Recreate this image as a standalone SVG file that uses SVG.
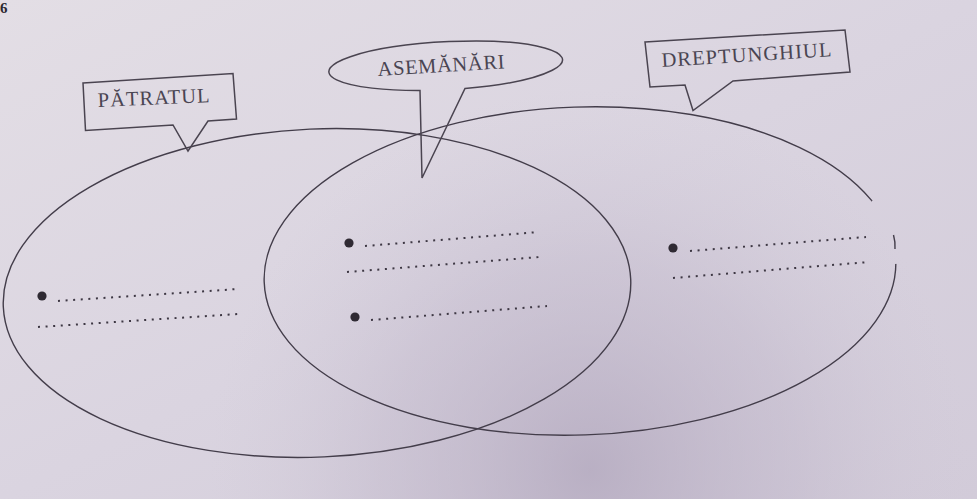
<svg xmlns="http://www.w3.org/2000/svg" width="977" height="499" viewBox="0 0 977 499">
  <defs>
    <linearGradient id="bg" x1="0" y1="0" x2="1" y2="1">
      <stop offset="0" stop-color="#e3dee5"/>
      <stop offset="0.5" stop-color="#dad4e0"/>
      <stop offset="1" stop-color="#d2cbd9"/>
    </linearGradient>
    <radialGradient id="shade" cx="590" cy="470" r="380" gradientUnits="userSpaceOnUse">
      <stop offset="0" stop-color="#ada2b9" stop-opacity="0.7"/>
      <stop offset="0.55" stop-color="#b9afc4" stop-opacity="0.35"/>
      <stop offset="1" stop-color="#cdc6d5" stop-opacity="0"/>
    </radialGradient>
    <mask id="gap">
      <rect x="0" y="0" width="977" height="499" fill="#fff"/>
      <rect x="874" y="211" width="40" height="64" fill="#000"/>
    </mask>
    <style>
      .ln { fill: none; stroke: #433d4a; stroke-width: 1.4; }
      .box { fill: none; stroke: #4a4450; stroke-width: 1.5; stroke-linejoin: miter; }
      .lbl { font-family: "Liberation Serif", "Times New Roman", serif; font-size: 20.5px; fill: #4a4552; }
      .dots { fill: none; stroke: #3d3743; stroke-width: 2; stroke-dasharray: 2 5.6; }
      .bullet { fill: #2f2a33; }
    </style>
  </defs>

  <rect x="0" y="0" width="977" height="499" fill="url(#bg)"/>
  <rect x="0" y="0" width="977" height="499" fill="url(#shade)"/>

  <text x="0" y="13" font-family="Liberation Serif, serif" font-size="15" font-weight="bold" fill="#2c2830">6</text>

  <g id="set-patratul">
    <ellipse class="ln" cx="317" cy="293" rx="314" ry="164" transform="rotate(-2.5 317 293)"/>
  </g>

  <g id="set-dreptunghiul">
    <ellipse class="ln" cx="580" cy="271" rx="316" ry="164" transform="rotate(-2 580 271)" mask="url(#gap)"/>
    <path class="ln" d="M 893.5 235 Q 895.5 242 895 249"/>
  </g>

  <g id="node-patratul">
    <path class="box" d="M 83 83 L 233 73.5 L 236.5 119 L 208 121 L 188 151 L 173 125 L 85.5 130.5 Z"/>
    <text class="lbl" x="98" y="107" textLength="112" lengthAdjust="spacing" transform="rotate(-2.5 98 107)">PĂTRATUL</text>
  </g>

  <g id="node-asemanari">
    <path class="box" d="M 420 90.5 A 117 24 -3 1 1 465 88.5 L 422 178 Z"/>
    <text class="lbl" x="378" y="76" textLength="127" lengthAdjust="spacing" transform="rotate(-3.5 378 76)">ASEMĂNĂRI</text>
  </g>

  <g id="node-dreptunghiul">
    <path class="box" d="M 645 42 L 845 30 L 850 72 L 733 81 L 693 110.5 L 685 85 L 650 87 Z"/>
    <text class="lbl" x="662" y="67" textLength="170" lengthAdjust="spacing" transform="rotate(-3.6 662 67)">DREPTUNGHIUL</text>
  </g>

  <g id="items-patratul">
    <circle class="bullet" cx="42" cy="296" r="4.6"/>
    <line class="dots" x1="58" y1="301" x2="238" y2="289"/>
    <line class="dots" x1="38" y1="327" x2="238" y2="314"/>
  </g>

  <g id="items-asemanari">
    <circle class="bullet" cx="349" cy="243" r="4.6"/>
    <line class="dots" x1="365" y1="246" x2="539" y2="232"/>
    <line class="dots" x1="347" y1="272" x2="540" y2="257"/>
    <circle class="bullet" cx="355" cy="317" r="4.6"/>
    <line class="dots" x1="371" y1="320" x2="547" y2="306"/>
  </g>

  <g id="items-dreptunghiul">
    <circle class="bullet" cx="673" cy="248" r="4.6"/>
    <line class="dots" x1="690" y1="251" x2="866" y2="237"/>
    <line class="dots" x1="673" y1="278" x2="869" y2="262"/>
  </g>

  <g id="connectors"></g>
</svg>
